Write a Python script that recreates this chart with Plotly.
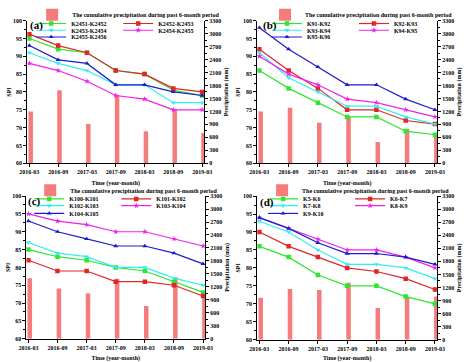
import plotly.graph_objects as go

W, H = 474, 362

time_labels = ["2016-03", "2016-09", "2017-03", "2017-09", "2018-03", "2018-09", "2019-03"]

# ---- Panel (a)
a_precip = [1200, 1690, 910, 1580, 740, 1240, 700]
a_K2451_K2452 = [95, 92, 91, 86, 85, 80.5, 79]
a_K2452_K2453 = [96.2, 93, 91, 86, 85, 81, 80]
a_K2453_K2454 = [91, 88, 86, 82, 82, 77, 77]
a_K2454_K2455 = [88, 86, 83, 79, 78, 75, 75]
a_K2455_K2456 = [93, 89, 88, 82, 82, 80, 79]

# ---- Panel (b)
b_precip = [1200, 1285, 940, 1070, 495, 800, 680]
b_K91_K92 = [86, 81, 77, 73, 73, 69, 68]
b_K92_K93 = [92, 86, 81, 75, 75, 72, 71]
b_K93_K94 = [91, 84, 80, 76, 76, 73, 71]
b_K94_K95 = [90, 85, 82, 78, 77, 75, 73]
b_K95_K96 = [98, 92, 87, 82, 82, 78, 75]

# ---- Panel (c)
c_precip = [1400, 1165, 1055, 1385, 760, 1425, 1000]
c_K100_K101 = [85, 83, 82, 80, 79, 76, 73]
c_K101_K102 = [82, 79, 79, 76, 76, 75, 72]
c_K102_K103 = [87, 84, 83, 80, 80, 77, 75]
c_K103_K104 = [95, 93, 92, 90, 90, 88, 86]
c_K104_K105 = [93, 90, 88, 86, 86, 84, 81]

# ---- Panel (d)
d_precip = [965, 1165, 1145, 1310, 730, 965, 990]
d_K5_K6 = [86, 83, 78, 75, 75, 72, 70]
d_K6_K7 = [90, 86, 83, 80, 79, 77, 74]
d_K7_K8 = [93, 90, 85, 81, 81, 80, 77]
d_K8_K9 = [94, 91, 88, 85, 85, 83, 80]
d_K9_K10 = [94, 91, 87, 84, 84, 83, 81]

spi_ticks = [60, 65, 70, 75, 80, 85, 90, 95, 100]
precip_ticks = [0, 300, 600, 900, 1200, 1500, 1800, 2100, 2400, 2700, 3000, 3300]
bar_name = "The cumulative precipitation during past 6-month period"

GREEN, RED, CYAN, MAGENTA, BLUE = "#2EE62E", "#E02626", "#30EEF2", "#EE22EE", "#1C1CCC"
BAR_COLOR = "#F47C7C"
FONT = "Liberation Serif"


def px(x):
    return x / W


def py(y):
    return 1 - y / H


panels = [
    dict(tag="(a)", precip=a_precip,
         series=[("K2451-K2452", a_K2451_K2452, GREEN, "square"),
                 ("K2452-K2453", a_K2452_K2453, RED, "square"),
                 ("K2453-K2454", a_K2453_K2454, CYAN, "triangle-down"),
                 ("K2454-K2455", a_K2454_K2455, MAGENTA, "star"),
                 ("K2455-K2456", a_K2455_K2456, BLUE, "triangle-up")],
         box=(20, 203, 11, 159), tagpos=(29.5, 16), barleg=(25, 5), rowx=24, rowy=(14, 21, 28)),
    dict(tag="(b)", precip=b_precip,
         series=[("K91-K92", b_K91_K92, GREEN, "square"),
                 ("K92-K93", b_K92_K93, RED, "square"),
                 ("K93-K94", b_K93_K94, CYAN, "triangle-down"),
                 ("K94-K95", b_K94_K95, MAGENTA, "star"),
                 ("K95-K96", b_K95_K96, BLUE, "triangle-up")],
         box=(258, 444, 11, 159), tagpos=(271, 16), barleg=(266, 5), rowx=268, rowy=(14, 21, 28)),
    dict(tag="(c)", precip=c_precip,
         series=[("K100-K101", c_K100_K101, GREEN, "square"),
                 ("K101-K102", c_K101_K102, RED, "square"),
                 ("K102-K103", c_K102_K103, CYAN, "triangle-down"),
                 ("K103-K104", c_K103_K104, MAGENTA, "star"),
                 ("K104-K105", c_K104_K105, BLUE, "triangle-up")],
         box=(19, 204, 193, 341), tagpos=(27, 199), barleg=(23, 187), rowx=22, rowy=(196, 203, 211)),
    dict(tag="(d)", precip=d_precip,
         series=[("K5-K6", d_K5_K6, GREEN, "square"),
                 ("K6-K7", d_K6_K7, RED, "square"),
                 ("K7-K8", d_K7_K8, CYAN, "triangle-down"),
                 ("K8-K9", d_K8_K9, MAGENTA, "star"),
                 ("K9-K10", d_K9_K10, BLUE, "triangle-up")],
         box=(258, 444, 193, 342), tagpos=(268, 200), barleg=(263, 187), rowx=264, rowy=(196, 203, 211)),
]

fig = go.Figure()
layout = dict(
    width=W, height=H, margin=dict(l=0, r=0, t=0, b=0),
    paper_bgcolor="white", plot_bgcolor="rgba(0,0,0,0)",
    font=dict(family=FONT, size=6, color="black", weight="bold"),
    showlegend=True, annotations=[],
)

xs = list(range(len(time_labels)))
axis_common = dict(showline=True, linecolor="black", linewidth=1, ticks="outside",
                   tickcolor="black", ticklen=3, tickwidth=1, showgrid=False, zeroline=False,
                   tickfont=dict(family=FONT, size=6, color="black", weight="bold"))
legend_common = dict(bgcolor="rgba(0,0,0,0)", borderwidth=0, orientation="h",
                     xanchor="left", yanchor="middle",
                     font=dict(family=FONT, size=6, color="black", weight="bold"))

leg_idx = 0


def next_legend():
    global leg_idx
    leg_idx += 1
    return "legend" if leg_idx == 1 else f"legend{leg_idx}"


for p, panel in enumerate(panels):
    x0, x1, y0, y1 = panel["box"]
    xa = f"x{p + 1}"
    ybase = f"y{2 * p + 1}"   # precipitation (right), base layer
    yover = f"y{2 * p + 2}"   # SPI (left), overlay on top
    xkey = f"xaxis{p + 1}"
    ybkey = f"yaxis{2 * p + 1}"
    yokey = f"yaxis{2 * p + 2}"

    layout[xkey] = dict(axis_common, domain=[px(x0), px(x1)], anchor=ybase,
                        range=[-0.07, 6.07], tickvals=xs, ticktext=time_labels,
                        title=dict(text="Time (year-month)", standoff=6,
                                   font=dict(family=FONT, size=6, weight="bold")))
    layout[ybkey] = dict(axis_common, domain=[py(y1), py(y0)], anchor=xa, side="right",
                         range=[0, 3300], tickvals=precip_ticks,
                         minor=dict(ticklen=2, tickcolor="black", dtick=150, ticks="outside"),
                         title=dict(text="Precipitation (mm)", standoff=3,
                                    font=dict(family=FONT, size=6, weight="bold")))
    layout[yokey] = dict(axis_common, overlaying=ybase, anchor=xa, side="left",
                         range=[60, 100], tickvals=spi_ticks,
                         minor=dict(ticklen=2, tickcolor="black", dtick=2.5, ticks="outside"),
                         title=dict(text="SPI", standoff=1,
                                    font=dict(family=FONT, size=6, weight="bold")))

    # bar legend
    lb = next_legend()
    bx, by = panel["barleg"]
    layout[lb] = dict(legend_common, x=px(bx), y=py(by))
    fig.add_trace(go.Bar(x=xs, y=panel["precip"], name=bar_name, xaxis=xa, yaxis=ybase,
                         width=0.155, offset=-0.03, marker=dict(color=BAR_COLOR, line=dict(width=0)),
                         legend=lb))

    rows = [[0, 1], [2, 3], [4]]
    for r, row in enumerate(rows):
        lr = next_legend()
        layout[lr] = dict(legend_common, x=px(panel["rowx"]), y=py(panel["rowy"][r]),
                          entrywidth=42, entrywidthmode="pixels")
        for i in row:
            name, vals, color, sym = panel["series"][i]
            fig.add_trace(go.Scatter(x=xs, y=vals, name=name, mode="lines+markers",
                                     xaxis=xa, yaxis=yover, legend=lr,
                                     line=dict(color=color, width=1.2),
                                     marker=dict(color=color, symbol=sym, size=4.5)))

    tx, ty = panel["tagpos"]
    layout["annotations"].append(dict(text=panel["tag"], x=px(tx), y=py(ty), xref="paper", yref="paper",
                                      showarrow=False, xanchor="center", yanchor="middle",
                                      font=dict(family=FONT, size=11, color="black", weight="bold")))

fig.update_layout(**layout)
fig.write_html("out.html")
